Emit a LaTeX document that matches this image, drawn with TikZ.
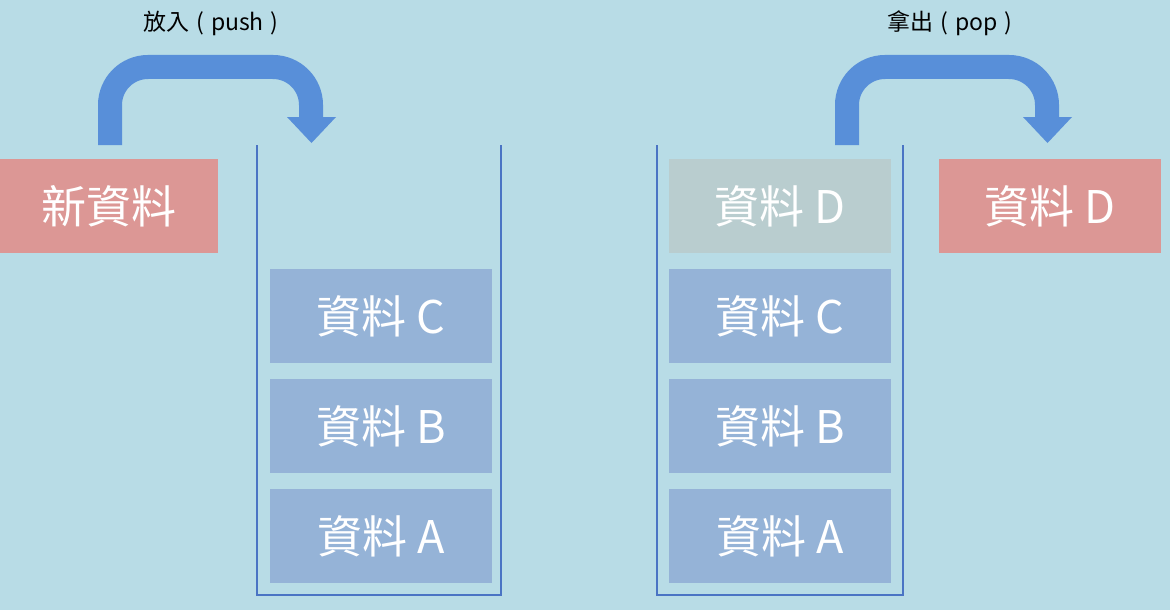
\documentclass[tikz,border=0pt]{standalone}
\usepackage{fontspec}
\setmainfont{Liberation Sans}
\newfontfamily\cjk{Noto Sans CJK TC}
\definecolor{bg}{HTML}{B8DCE6}
\definecolor{blk}{HTML}{95B3D7}
\definecolor{pnk}{HTML}{DC9795}
\definecolor{gry}{HTML}{B9CDCF}
\definecolor{arr}{HTML}{588FD9}
\definecolor{wall}{HTML}{4A74C4}
\tikzset{
 box/.style={fill=#1, draw=none, minimum width=222pt, minimum height=94pt, inner sep=0pt, text=white, font=\cjk\fontsize{45}{52}\selectfont},
 wallline/.style={draw=wall, line width=2.5pt},
 bigarrow/.style={draw=arr, line width=24pt, rounded corners=38pt},
 lbl/.style={font=\cjk\fontsize{23}{27}\selectfont, text=black}
}
\begin{document}
\begin{tikzpicture}[x=1pt,y=-1pt]
\fill[bg] (0,0) rectangle (1170,610);
\useasboundingbox (0,0) rectangle (1170,610);
% left stack
\draw[wallline] (257,145) -- (257,595) -- (501,595) -- (501,145);
\node[box=blk] (lc) at (381,316) {資料 C};
\node[box=blk] (lb) at (381,426) {資料 B};
\node[box=blk] (la) at (381,536) {資料 A};
\node[box=pnk, minimum width=218pt] (new) at (109,206) {新資料};
% right stack
\draw[wallline] (657,145) -- (657,595) -- (903,595) -- (903,145);
\node[box=gry] (rd) at (780,206) {資料 D};
\node[box=blk] (rc) at (780,316) {資料 C};
\node[box=blk] (rb) at (780,426) {資料 B};
\node[box=blk] (ra) at (780,536) {資料 A};
\node[box=pnk] (out) at (1050,206) {資料 D};
% arrows
\draw[bigarrow] (110,145) -- (110,67) -- (311,67) -- (311,119);
\fill[arr] (287,117) -- (336,117) -- (311.5,143) -- cycle;
\draw[bigarrow] (847,145) -- (847,67) -- (1047,67) -- (1047,119);
\fill[arr] (1023,117) -- (1072,117) -- (1047.5,143) -- cycle;
\node[lbl] (push) at (211,23) {放入\hspace{7pt}(\hspace{7pt}push\hspace{7pt})};
\node[lbl] (pop) at (950,23) {拿出\hspace{7pt}(\hspace{7pt}pop\hspace{7pt})};
\end{tikzpicture}
\end{document}
